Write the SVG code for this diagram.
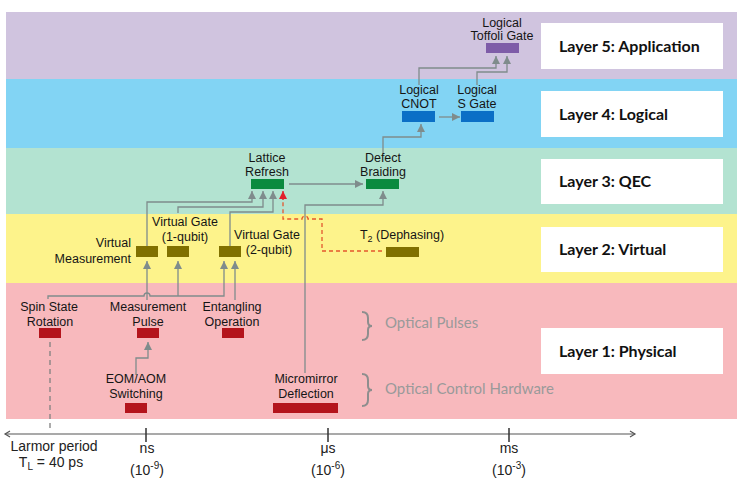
<svg xmlns="http://www.w3.org/2000/svg" width="749" height="488" viewBox="0 0 749 488">
<style>
.lbl{font-family:"Liberation Sans",Arial,sans-serif;font-size:12.5px;fill:#151515;text-anchor:middle}
.lyr{font-family:Lato,"Liberation Sans",sans-serif;font-weight:bold;font-size:16px;fill:#111}
.grp{font-family:Lato,"Liberation Sans",sans-serif;font-size:15px;fill:#9a9a9a}
.ax{font-family:"Liberation Sans",Arial,sans-serif;font-size:14px;fill:#222;text-anchor:middle}
.con{fill:none;stroke:#7f8c8c;stroke-width:1.3}
.red{fill:none;stroke:#e4572e;stroke-width:1.3;stroke-dasharray:4 3}
.box{fill:#fff}
.brace{fill:none;stroke:#8e8e8e;stroke-width:2}
</style>
<defs>
<marker id="ah" viewBox="0 0 8 8" refX="8" refY="4" markerWidth="8" markerHeight="8" markerUnits="userSpaceOnUse" orient="auto"><path d="M0,0 L8,4 L0,8 z" fill="#7f8c8c"/></marker>
<marker id="ahr" viewBox="0 0 8 8" refX="8" refY="4" markerWidth="8" markerHeight="8" markerUnits="userSpaceOnUse" orient="auto"><path d="M0,0 L8,4 L0,8 z" fill="#e2202c"/></marker>
</defs>

<g id="bands">
<rect x="6" y="12" width="731" height="67" fill="#d0c4df"/>
<rect x="6" y="79" width="731" height="69" fill="#82d4f4"/>
<rect x="6" y="148" width="731" height="66" fill="#b3e3d1"/>
<rect x="6" y="214" width="731" height="69" fill="#fdf38b"/>
<rect x="6" y="283" width="731" height="136" fill="#f8b9bd"/>
</g>

<g id="layer-labels">
<rect class="box" x="541" y="23" width="182" height="46"/>
<text class="lyr" x="559" y="52">Layer 5: Application</text>
<rect class="box" x="541" y="91" width="182" height="46"/>
<text class="lyr" x="559" y="120">Layer 4: Logical</text>
<rect class="box" x="541" y="159" width="182" height="45"/>
<text class="lyr" x="559" y="187">Layer 3: QEC</text>
<rect class="box" x="541" y="227" width="182" height="45"/>
<text class="lyr" x="559" y="255">Layer 2: Virtual</text>
<rect class="box" x="541" y="328" width="182" height="46"/>
<text class="lyr" x="559" y="357">Layer 1: Physical</text>
</g>

<g id="groupings">
<path class="brace" d="M362,312 Q368,312 368,318 L368,322 Q368,326 372,326 Q368,326 368,330 L368,334 Q368,340 362,340"/>
<text class="grp" x="385" y="328">Optical Pulses</text>
<path class="brace" d="M362,374 Q368,374 368,380 L368,386 Q368,390 372,390 Q368,390 368,394 L368,400 Q368,406 362,406"/>
<text class="grp" x="385" y="394">Optical Control Hardware</text>
</g>

<g id="connectors">
<path class="con" d="M419,85 V68 H496 V56" marker-end="url(#ah)"/>
<path class="con" d="M477,85 V72 H507 V56" marker-end="url(#ah)"/>
<path class="con" d="M439,117 H460" marker-end="url(#ah)"/>
<path class="con" d="M383,154 V137 H421 V124" marker-end="url(#ah)"/>
<path class="con" d="M289,184 H363" marker-end="url(#ah)"/>
<path class="con" d="M147,246 V202 H252 V191" marker-end="url(#ah)"/>
<path class="con" d="M178,213 V207 H263 V191" marker-end="url(#ah)"/>
<path class="con" d="M230,246 V212 H273 V191" marker-end="url(#ah)"/>
<path class="con" d="M305,373 V205 H383 V191" marker-end="url(#ah)"/>
<path class="red" d="M382,251 H322 V219 H308 A3,3 0 0 0 302,219 H283 V199"/>
<path class="con" style="stroke:#e2202c" d="M283,200 V191" marker-end="url(#ahr)"/>
<path class="con" d="M147,300 V261" marker-end="url(#ah)"/>
<path class="con" d="M48,299 V296 H144 A3,3 0 0 1 150,296 H224 V261" marker-end="url(#ah)"/>
<path class="con" d="M178,296 V261" marker-end="url(#ah)"/>
<path class="con" d="M235,300 V261" marker-end="url(#ah)"/>
<path class="con" d="M136,375 V358 H148 V342" marker-end="url(#ah)"/>
</g>

<g id="toffoli">
<rect x="486" y="43" width="33" height="10" fill="#7e5ca8"/>
<text class="lbl" x="502" y="27">Logical</text>
<text class="lbl" x="502" y="40">Toffoli Gate</text>
</g>
<g id="cnot">
<rect x="402" y="111" width="33" height="11" fill="#0b6fc6"/>
<text class="lbl" x="419" y="94">Logical</text>
<text class="lbl" x="419" y="108">CNOT</text>
</g>
<g id="sgate">
<rect x="461" y="111" width="33" height="11" fill="#0b6fc6"/>
<text class="lbl" x="477" y="94">Logical</text>
<text class="lbl" x="477" y="108">S Gate</text>
</g>
<g id="lattice-refresh">
<rect x="251" y="179" width="33" height="10" fill="#0a8a3f"/>
<text class="lbl" x="267" y="162">Lattice</text>
<text class="lbl" x="267" y="176">Refresh</text>
</g>
<g id="defect-braiding">
<rect x="366" y="179" width="33" height="10" fill="#0a8a3f"/>
<text class="lbl" x="383" y="162">Defect</text>
<text class="lbl" x="383" y="176">Braiding</text>
</g>
<g id="virtual-measurement">
<rect x="136" y="246" width="22" height="11" fill="#807000"/>
<text class="lbl" x="131" y="247" style="text-anchor:end">Virtual</text>
<text class="lbl" x="131" y="263" style="text-anchor:end">Measurement</text>
</g>
<g id="virtual-gate-1">
<rect x="167" y="246" width="22" height="11" fill="#807000"/>
<text class="lbl" x="185" y="226">Virtual Gate</text>
<text class="lbl" x="185" y="241">(1-qubit)</text>
</g>
<g id="virtual-gate-2">
<rect x="219" y="246" width="22" height="11" fill="#807000"/>
<text class="lbl" x="267" y="239">Virtual Gate</text>
<text class="lbl" x="269" y="254">(2-qubit)</text>
</g>
<g id="t2-dephasing">
<rect x="386" y="247" width="33" height="10" fill="#807000"/>
<text class="lbl" x="402" y="239">T<tspan font-size="9" dy="3">2</tspan><tspan dy="-3"> (Dephasing)</tspan></text>
</g>
<g id="spin-state-rotation">
<rect x="39" y="328" width="22" height="10" fill="#b4141c"/>
<text class="lbl" x="49" y="311">Spin State</text>
<text class="lbl" x="50" y="326">Rotation</text>
</g>
<g id="measurement-pulse">
<rect x="137" y="328" width="22" height="10" fill="#b4141c"/>
<text class="lbl" x="148" y="311">Measurement</text>
<text class="lbl" x="148" y="326">Pulse</text>
</g>
<g id="entangling-operation">
<rect x="222" y="328" width="22" height="10" fill="#b4141c"/>
<text class="lbl" x="232" y="311">Entangling</text>
<text class="lbl" x="232" y="326">Operation</text>
</g>
<g id="eom-aom-switching">
<rect x="125" y="403" width="22" height="10" fill="#b4141c"/>
<text class="lbl" x="136" y="383">EOM/AOM</text>
<text class="lbl" x="136" y="398">Switching</text>
</g>
<g id="micromirror-deflection">
<rect x="273" y="403" width="65" height="10" fill="#b4141c"/>
<text class="lbl" x="306" y="383">Micromirror</text>
<text class="lbl" x="306" y="398">Deflection</text>
</g>

<g id="time-axis">
<path d="M50,342 V432" fill="none" stroke="#808080" stroke-width="1.3" stroke-dasharray="5 4"/>
<path d="M5,434 H635" fill="none" stroke="#555" stroke-width="1.2"/>
<path d="M10,431 L5,434 L10,437" fill="none" stroke="#555" stroke-width="1.2"/>
<path d="M630,431 L635,434 L630,437" fill="none" stroke="#555" stroke-width="1.2"/>
<path d="M146,428 V442 M328,428 V442 M509,428 V442" fill="none" stroke="#333" stroke-width="1.5"/>
<text class="ax" x="54" y="451">Larmor period</text>
<text class="ax" x="51" y="467">T<tspan font-size="10" dy="3">L</tspan><tspan dy="-3"> = 40 ps</tspan></text>
<text class="ax" x="147" y="453">ns</text>
<text class="ax" x="147" y="475">(10<tspan font-size="10" dy="-6">-9</tspan><tspan dy="6">)</tspan></text>
<text class="ax" x="328" y="453">μs</text>
<text class="ax" x="328" y="475">(10<tspan font-size="10" dy="-6">-6</tspan><tspan dy="6">)</tspan></text>
<text class="ax" x="509" y="453">ms</text>
<text class="ax" x="509" y="475">(10<tspan font-size="10" dy="-6">-3</tspan><tspan dy="6">)</tspan></text>
</g>
</svg>
